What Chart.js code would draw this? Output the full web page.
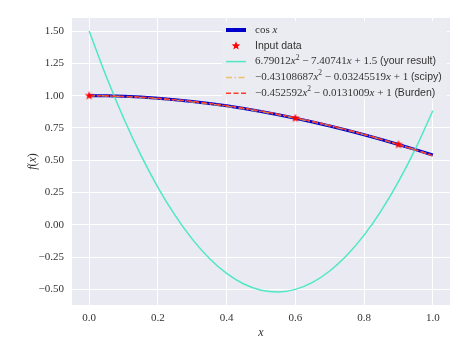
<!DOCTYPE html>
<html>
<head>
<meta charset="utf-8">
<script src="https://cdn.jsdelivr.net/npm/chart.js@4.4.1/dist/chart.umd.min.js"></script>
<style>
  html, body { margin: 0; padding: 0; background: #ffffff; }
  #chart { display: block; }
</style>
</head>
<body>
<canvas id="chart" width="474" height="347"></canvas>
<script>
// sample points along x
const xs = [0, 0.05, 0.1, 0.15, 0.2, 0.25, 0.3, 0.35, 0.4, 0.45, 0.5,
            0.55, 0.6, 0.65, 0.7, 0.75, 0.8, 0.85, 0.9, 0.95, 1.0];

const cosVals = [1.0, 0.99875, 0.995, 0.98877, 0.98007, 0.96891, 0.95534, 0.93937, 0.92106, 0.90045, 0.87758,
                 0.85252, 0.82534, 0.79608, 0.76484, 0.73169, 0.69671, 0.65998, 0.62161, 0.58168, 0.5403];

const yourVals = [1.5, 1.146604, 0.82716, 0.541666, 0.290123, 0.07253, -0.111112, -0.260804, -0.376545, -0.458335, -0.506175,
                  -0.520065, -0.500003, -0.445991, -0.358028, -0.236115, -0.080251, 0.109563, 0.333328, 0.591043, 0.88271];

const scipyVals = [1.0, 0.997299, 0.992443, 0.985433, 0.976266, 0.964943, 0.951465, 0.935833, 0.918044, 0.8981, 0.876,
                   0.851746, 0.825336, 0.79677, 0.766048, 0.733173, 0.69814, 0.660953, 0.62161, 0.580112, 0.536458];

const burdenVals = [1.0, 0.998214, 0.994164, 0.987852, 0.979276, 0.968438, 0.955337, 0.939972, 0.922345, 0.902455, 0.880302,
                    0.855885, 0.829206, 0.800264, 0.769059, 0.735591, 0.69986, 0.661866, 0.621609, 0.57909, 0.534307];

const inputX = [0, 0.6, 0.9];
const inputY = [1.0, 0.82534, 0.62161];

const xTicks = [0, 0.2, 0.4, 0.6, 0.8, 1.0];
const yTicks = [-0.5, -0.25, 0, 0.25, 0.5, 0.75, 1.0, 1.25, 1.5];

const BLUE = '#0000cc';
const GREEN = '#4fe8c4';
const ORANGE = 'rgba(240,180,70,0.8)';
const RED = '#ff3b2a';
const TEXT = '#333333';
const SERIF = '"Liberation Serif", "DejaVu Serif", serif';
const SANS = '"Liberation Sans", "DejaVu Sans", sans-serif';

function pts(ys) {
    return xs.map((x, i) => ({ x: x, y: ys[i] }));
}

// filled five point star like matplotlib '*'
function makeStar(r) {
    const c = document.createElement('canvas');
    const s = Math.ceil(r * 2 + 2);
    c.width = s; c.height = s;
    const g = c.getContext('2d');
    drawStar(g, s / 2, s / 2, r);
    return c;
}
function drawStar(g, cx, cy, r) {
    g.beginPath();
    for (let i = 0; i < 10; i++) {
        const rad = i % 2 === 0 ? r : r * 0.42;
        const a = -Math.PI / 2 + i * Math.PI / 5;
        const px = cx + rad * Math.cos(a), py = cy + rad * Math.sin(a);
        if (i === 0) g.moveTo(px, py); else g.lineTo(px, py);
    }
    g.closePath();
    g.fillStyle = '#ff0000';
    g.fill();
}
const starImg = makeStar(4.6);

// legend rows: each is a list of [text, style]
const legendRows = [
    { kind: 'thick', label: [['cos ', 'rm'], ['x', 'it']] },
    { kind: 'star', label: [['Input data', 'sf']] },
    { kind: 'green', label: [['6.79012', 'rm'], ['x', 'it'], ['2', 'sup'], [' \u2212 7.40741', 'rm'], ['x', 'it'], [' + 1.5 ', 'rm'], ['(your result)', 'sf']] },
    { kind: 'orange', label: [['\u22120.43108687', 'rm'], ['x', 'it'], ['2', 'sup'], [' \u2212 0.03245519', 'rm'], ['x', 'it'], [' + 1 ', 'rm'], ['(scipy)', 'sf']] },
    { kind: 'red', label: [['\u22120.452592', 'rm'], ['x', 'it'], ['2', 'sup'], [' \u2212 0.0131009', 'rm'], ['x', 'it'], [' + 1 ', 'rm'], ['(Burden)', 'sf']] }
];

function fontFor(style) {
    if (style === 'it') return 'italic 11px ' + SERIF;
    if (style === 'sup') return '7.5px ' + SERIF;
    if (style === 'sf') return '10.5px ' + SANS;
    return '11px ' + SERIF;
}

function drawRich(g, segs, x, y) {
    g.textBaseline = 'middle';
    g.textAlign = 'left';
    segs.forEach(([t, st]) => {
        g.font = fontFor(st);
        g.fillText(t, x, st === 'sup' ? y - 4 : y);
        x += g.measureText(t).width;
    });
    return x;
}

const decor = {
    id: 'decor',
    beforeDraw(chart) {
        const g = chart.ctx, a = chart.chartArea;
        g.save();
        g.fillStyle = '#eaeaf2';
        g.fillRect(a.left, a.top, a.right - a.left, a.bottom - a.top);
        g.restore();
    },
    afterDraw(chart) {
        const g = chart.ctx, a = chart.chartArea;
        g.save();
        // legend box
        g.fillStyle = 'rgba(234,234,242,0.92)';
        g.beginPath();
        g.roundRect(222, 21, 225, 78, 3);
        g.fill();

        const hx0 = 226, hx1 = 246, tx = 255;
        legendRows.forEach((row, i) => {
            const y = 30 + i * 15.8;
            g.setLineDash([]);
            if (row.kind === 'thick') {
                g.strokeStyle = BLUE; g.lineWidth = 4;
            } else if (row.kind === 'green') {
                g.strokeStyle = GREEN; g.lineWidth = 1.5;
            } else if (row.kind === 'orange') {
                g.strokeStyle = ORANGE; g.lineWidth = 1.5; g.setLineDash([6, 2.5, 1.5, 2.5]);
            } else if (row.kind === 'red') {
                g.strokeStyle = RED; g.lineWidth = 1.5; g.setLineDash([5, 2.5]);
            }
            if (row.kind === 'star') {
                drawStar(g, (hx0 + hx1) / 2, y, 4.6);
            } else {
                g.beginPath();
                g.moveTo(hx0, y);
                g.lineTo(hx1, y);
                g.stroke();
            }
            g.setLineDash([]);
            g.fillStyle = TEXT;
            drawRich(g, row.label, tx, y);
        });

        // axis titles
        g.fillStyle = TEXT;
        g.font = 'italic 12px ' + SERIF;
        g.textAlign = 'center';
        g.textBaseline = 'middle';
        g.fillText('x', (a.left + a.right) / 2, 333);

        g.translate(33, (a.top + a.bottom) / 2);
        g.rotate(-Math.PI / 2);
        const segs = [['f', 'it'], ['(', 'rm'], ['x', 'it'], [')', 'rm']];
        let w = 0;
        segs.forEach(([t, st]) => { g.font = st === 'it' ? 'italic 12px ' + SERIF : '12px ' + SERIF; w += g.measureText(t).width; });
        let x = -w / 2;
        g.textAlign = 'left';
        segs.forEach(([t, st]) => {
            g.font = st === 'it' ? 'italic 12px ' + SERIF : '12px ' + SERIF;
            g.fillText(t, x, 0);
            x += g.measureText(t).width;
        });
        g.restore();
    }
};

const fmtMinus = s => s.replace('-', '\u2212');

new Chart(document.getElementById('chart'), {
    type: 'scatter',
    data: {
        datasets: [
            { label: 'cos x', data: pts(cosVals), showLine: true, borderColor: BLUE, borderWidth: 3,
              pointRadius: 0, cubicInterpolationMode: 'monotone', order: 5 },
            { label: 'Input data', data: inputX.map((x, i) => ({ x: x, y: inputY[i] })),
              pointStyle: starImg, pointRadius: 5, order: 0 },
            { label: 'your result', data: pts(yourVals), showLine: true, borderColor: GREEN, borderWidth: 1.5,
              pointRadius: 0, cubicInterpolationMode: 'monotone', order: 4 },
            { label: 'scipy', data: pts(scipyVals), showLine: true, borderColor: ORANGE, borderWidth: 1.5,
              borderDash: [6, 2.5, 1.5, 2.5], pointRadius: 0, cubicInterpolationMode: 'monotone', order: 3 },
            { label: 'Burden', data: pts(burdenVals), showLine: true, borderColor: RED, borderWidth: 1.5,
              borderDash: [5, 2.5], pointRadius: 0, cubicInterpolationMode: 'monotone', order: 2 }
        ]
    },
    options: {
        responsive: false,
        animation: false,
        devicePixelRatio: 1,
        layout: { padding: { top: 18, right: 24, left: 0, bottom: 0 } },
        plugins: { legend: { display: false }, tooltip: { enabled: false } },
        scales: {
            x: {
                type: 'linear',
                min: -0.05, max: 1.05,
                afterBuildTicks: scale => { scale.ticks = xTicks.map(v => ({ value: v })); },
                afterFit: scale => { scale.height = 42; },
                grid: { color: '#ffffff', lineWidth: 1, drawTicks: false },
                border: { display: false },
                ticks: {
                    padding: 7,
                    color: TEXT,
                    font: { family: SERIF, size: 11 },
                    callback: v => v.toFixed(1),
                    maxRotation: 0
                }
            },
            y: {
                type: 'linear',
                min: -0.621, max: 1.601,
                afterBuildTicks: scale => { scale.ticks = yTicks.map(v => ({ value: v })); },
                afterFit: scale => { scale.width = 72; },
                grid: { color: '#ffffff', lineWidth: 1, drawTicks: false },
                border: { display: false },
                ticks: {
                    padding: 8,
                    color: TEXT,
                    font: { family: SERIF, size: 11 },
                    callback: v => fmtMinus(v.toFixed(2))
                }
            }
        }
    },
    plugins: [decor]
});
</script>
</body>
</html>
